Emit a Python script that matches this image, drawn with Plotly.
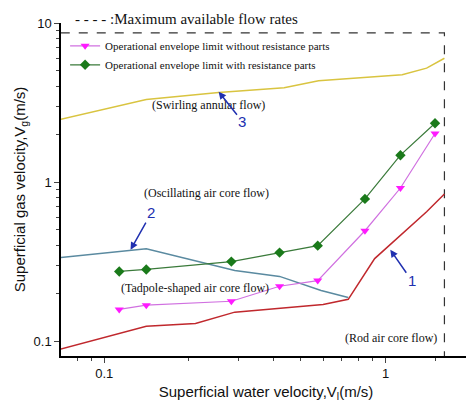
import math

import plotly.graph_objects as go

# operational envelope limits
env_x = [0.113, 0.141, 0.283, 0.42, 0.574, 0.845, 1.13, 1.5]
no_res_y = [0.158, 0.168, 0.178, 0.221, 0.24, 0.494, 0.917, 2.02]
with_res_y = [0.274, 0.282, 0.316, 0.36, 0.398, 0.783, 1.475, 2.34]

# transition line 1 (rod -> tadpole/oscillating)
line1_x = [0.07, 0.141, 0.211, 0.291, 0.60, 0.737, 0.915, 1.146, 1.40, 1.62]
line1_y = [0.089, 0.124, 0.129, 0.152, 0.17, 0.183, 0.33, 0.473, 0.65, 0.84]
# transition line 2 (tadpole -> oscillating)
line2_x = [0.07, 0.141, 0.291, 0.42, 0.59, 0.737]
line2_y = [0.335, 0.381, 0.278, 0.255, 0.208, 0.188]
# transition line 3 (oscillating -> swirling annular)
line3_x = [0.07, 0.141, 0.255, 0.436, 0.578, 1.146, 1.40, 1.62]
line3_y = [2.48, 3.3, 3.65, 3.92, 4.34, 4.73, 5.2, 6.0]

max_x = [0.07, 1.62, 1.62]
max_y = [8.66, 8.66, 0.08]

serif = "Liberation Serif"
sans = "Liberation Sans"
lg = math.log10

fig = go.Figure()
fig.add_trace(go.Scatter(x=max_x, y=max_y, mode="lines", showlegend=False,
                         line=dict(color="#333", width=1.2, dash="dash")))
fig.add_trace(go.Scatter(x=line3_x, y=line3_y, mode="lines", showlegend=False,
                         line=dict(color="#d9c440", width=1.5)))
fig.add_trace(go.Scatter(x=line2_x, y=line2_y, mode="lines", showlegend=False,
                         line=dict(color="#5a8aa0", width=1.5)))
fig.add_trace(go.Scatter(x=line1_x, y=line1_y, mode="lines", showlegend=False,
                         line=dict(color="#c0282d", width=1.5)))
fig.add_trace(go.Scatter(x=env_x, y=no_res_y, mode="lines+markers",
                         name="Operational envelope limit without resistance parts",
                         line=dict(color="#d070e0", width=1.2),
                         marker=dict(symbol="triangle-down", size=8, color="#ff1aff")))
fig.add_trace(go.Scatter(x=env_x, y=with_res_y, mode="lines+markers",
                         name="Operational envelope limit with resistance parts",
                         line=dict(color="#3a7a3a", width=1.2),
                         marker=dict(symbol="diamond", size=8, color="#1a7a1a")))

labels = [
    ("(Swirling annular flow)", 0.235, 3.05),
    ("(Oscillating air core flow)", 0.23, 0.85),
    ("(Tadpole-shaped air core flow)", 0.21, 0.215),
    ("(Rod air core flow)", 1.05, 0.104),
]
for text, x, y in labels:
    fig.add_annotation(x=lg(x), y=lg(y), xref="x", yref="y", text=text, showarrow=False,
                       xanchor="center", font=dict(family=serif, size=12, color="#111"))

arrows = [("3", 0.255, 3.7, 0.31, 2.4), ("2", 0.124, 0.375, 0.147, 0.64),
          ("1", 1.04, 0.375, 1.24, 0.24)]
for text, x, y, tx, ty in arrows:
    fig.add_annotation(x=lg(x), y=lg(y), ax=lg(tx), ay=lg(ty), axref="x", ayref="y",
                       xref="x", yref="y",
                       text=text, showarrow=True, arrowhead=2, arrowsize=1, arrowwidth=1.5,
                       arrowcolor="#2030b0", font=dict(family=sans, size=15, color="#2030b0"))

fig.add_annotation(x=0.0, y=1.0, xref="paper", yref="paper", yanchor="bottom", xanchor="left",
                   xshift=12, yshift=-6, showarrow=False,
                   text="- - - - :Maximum available flow rates",
                   font=dict(family=serif, size=15, color="#111"))

fig.update_layout(
    width=474, height=403, paper_bgcolor="white", plot_bgcolor="white",
    margin=dict(l=53, r=8, t=15, b=55),
    legend=dict(x=0.01, y=0.975, xanchor="left", yanchor="top", bgcolor="rgba(0,0,0,0)",
                font=dict(family=serif, size=11, color="#111"), tracegroupgap=0,
                itemwidth=30),
)
fig.update_xaxes(type="log", range=[-1.154, 0.304], showgrid=False, zeroline=False,
                 showline=True, linecolor="black", linewidth=1.5, ticks="outside",
                 ticklen=5, tickvals=[0.1, 1, 2], ticktext=["0.1", "1", "2"],
                 minor=dict(ticks="outside", ticklen=3, tickvals=[0.08, 0.09, 0.2, 0.3, 0.4, 0.5, 0.6, 0.7, 0.8, 0.9, 1.5]),
                 tickfont=dict(family=sans, size=13, color="#111"),
                 title=dict(text="Superficial water velocity,V<sub>l</sub>(m/s)",
                            font=dict(family=sans, size=15, color="#111"), standoff=6))
fig.update_yaxes(type="log", range=[-1.094, 1.0], showgrid=False, zeroline=False,
                 showline=True, linecolor="black", linewidth=1.5, ticks="outside",
                 ticklen=5, tickvals=[0.1, 1, 10], ticktext=["0.1", "1", "10"],
                 minor=dict(ticks="outside", ticklen=3,
                            tickvals=[0.2, 0.3, 0.4, 0.5, 0.6, 0.7, 0.8, 0.9, 2, 3, 4, 5, 6, 7, 8, 9]),
                 tickfont=dict(family=sans, size=13, color="#111"),
                 title=dict(text="Superficial gas velocity,V<sub>g</sub>(m/s)",
                            font=dict(family=sans, size=15, color="#111"), standoff=4))

fig.write_html("out.html")
